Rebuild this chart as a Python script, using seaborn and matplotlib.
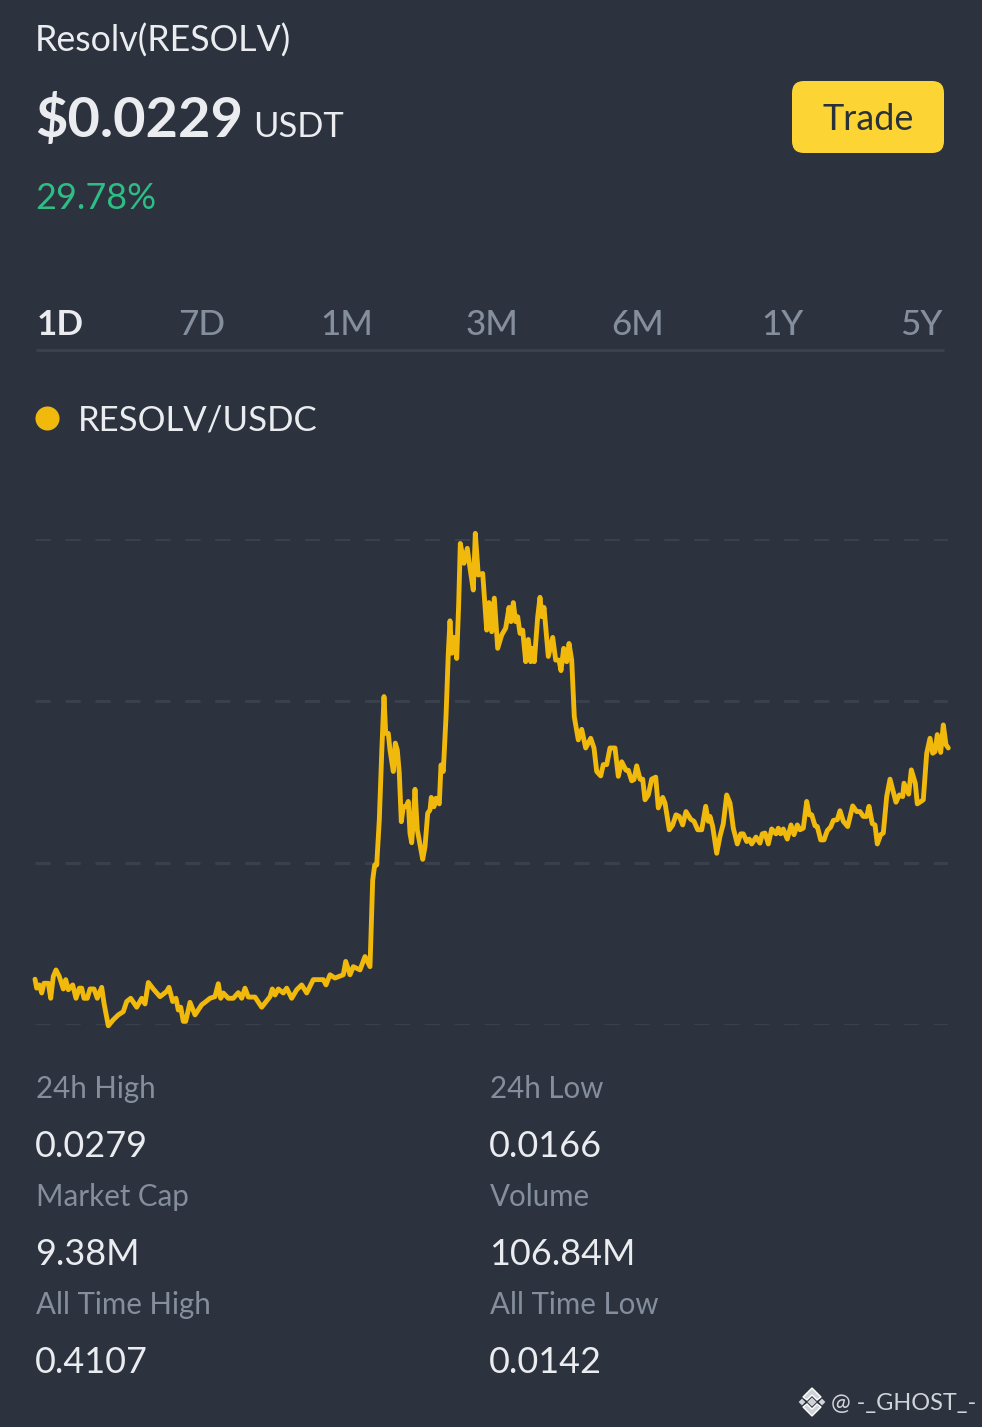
import matplotlib
matplotlib.use('Agg')
import matplotlib.pyplot as plt
from matplotlib.patches import FancyBboxPatch, Polygon
import pandas as pd
import seaborn as sns

# price trace, time in chart ticks, price in 1e-4 USDC
times = [0, 1.7, 4.3, 6.7, 9, 13.3, 15.7, 18.3, 21, 24.3, 28.3, 30.7, 33.3, 37.7, 41, 44.3, 46.7, 49, 52.3, 55, 59,
         62.3, 66.7, 69, 73.3, 78.3, 83.3, 88.3, 91.7, 95.7, 101.7, 106.7, 110, 113.3, 118.3, 125, 131.7, 134, 137.7,
         141, 143.3, 145.7, 148.3, 150.7, 155, 160, 166.7, 170, 175, 180, 183.3, 185.7, 188.3, 193.3, 198.3, 203.3,
         206.7, 210, 213.3, 220, 226.7, 235, 237.3, 240, 243.3, 248.3, 251.7, 256.7, 261.7, 266.7, 271.7, 278.3,
         288.3, 291, 295, 300, 308.3, 310.7, 315, 318.3, 325, 330, 335,
         337.7, 339.7, 341.7, 344.3, 346.7, 349, 350.7, 353.3, 355, 358.3, 360.3, 362.3, 364.3, 366.3, 368.3, 371,
         373.3, 375, 376.7, 378.3, 380, 382.3, 387.7, 390, 392.7, 395, 396.3, 399, 401, 404.3, 406, 408.3, 411,
         413.3, 415, 416.7, 419.3, 421.7, 423.7, 425.3, 429, 432.3, 435, 438.3, 440.3, 443.3, 447.7, 451.7, 454,
         456.7, 459.3, 462.7, 466.7, 470.7, 474, 476, 478.3, 480.7, 482.7, 485, 487.7, 490.7, 493.3, 495.7, 497.3,
         499.3, 502.7, 505, 507, 509, 513.3, 517.7, 520.7, 524, 526, 528.7, 531.7, 534, 536.7, 539.3, 543.3, 546.7,
         550.7, 555.7, 559, 561.7, 565.7, 568.3, 571.7, 575, 580, 583.3, 586.7, 591, 593.3, 596.7, 599, 601.7, 605,
         607.7, 610, 613.3, 616.7, 620.7, 623.3, 627.7, 630, 634.3, 637.7, 641, 644.3, 647.7, 651, 655.7, 659, 662.7,
         666.7, 670.7, 673.3, 675, 677.7, 681.7, 685, 688.3, 691.7, 695, 698.3, 702.3, 705.7, 708.3, 711.7, 714.3,
         716.7, 721, 725, 727.3, 730, 733.3, 736.7, 741, 743.3, 745.7, 748.3, 752.3, 756, 759, 762.3, 765, 768.3,
         771.7, 774.3, 776.7, 780, 782.3, 785.7, 789, 792.3, 795.7, 798.3, 802.3, 805, 808.3, 812.7, 817.7, 821.7,
         825, 828.3, 831.7, 834, 837.3, 840, 842.3, 845.7, 848.3, 851.7, 855, 857.7, 861, 864.3, 867.7, 869, 873.7,
         876.3, 880.3, 882.3, 888.3, 891.7, 895, 897.7, 900, 902.3, 905.7, 908.3, 911, 913.3]
prices = [171.3, 169.1, 169.9, 167.9, 170.3, 170.3, 166.6, 172, 173.6, 172, 168.9, 171.2, 168.7, 169.9, 166.6, 169.1,
          169.1, 166.6, 166.6, 168.9, 168.9, 166.6, 169.3, 165.4, 159.8, 161.3, 162.5, 163.3, 165.8, 166.6, 164.4,
          166.6, 165.2, 170.5, 168.9, 167, 168.3, 169.3, 165.8, 166.6, 163.7, 164.4, 160.9, 160.9, 165.6, 162.5, 165,
          165.6, 166.6, 167, 170.2, 166.6, 167.9, 166.6, 166.6, 168, 166.6, 169.1, 166.9, 166.9, 164.4, 167, 168.9,
          167.4, 168.9, 167.9, 169.1, 166.6, 168.7, 169.9, 167.9, 171.2, 171.2, 169.9, 172.4, 171.6, 172.4, 175.7,
          172.4, 174.4, 173.6, 176.9, 174.4,
          195.8, 199.5, 199.5, 210.6, 227.1, 241.1, 232, 232, 227.9, 222.6, 229.6, 227.9, 222.2, 210.2, 213.9, 213.9,
          215.2, 207.3, 205, 210.6, 218.2, 208.2, 200.9, 204, 212.3, 213.1, 216.2, 213.9, 216, 214.6, 224.2, 222.6,
          236.1, 251.8, 259.8, 251.8, 255.7, 250.5, 264.1, 278.9, 274, 277.7, 272.8, 267.4, 281.4, 271.1, 271.5, 257.5,
          264.3, 257.1, 265.4, 253, 256.3, 258, 263.1, 259.6, 264.3, 259.6, 260.8, 256.7, 257.5, 249.7, 255.2, 249.7,
          253, 249.7, 260.8, 265.6, 260.8, 263.1, 251, 255.7, 250.1, 250.1, 247.5, 253, 249.7, 254.2, 250.1, 236.1,
          230.4, 233,
          228.4, 230.8, 228.4, 222.6, 221.5, 224.3, 224.3, 228.4, 228.4, 221.4, 225, 222.9, 222.9, 220.3, 220.6, 224,
          220.7, 220.7, 215.6, 216.8, 220.7, 221.2, 213.6, 216.2, 214.8, 208.2, 209.4, 211.9, 211.5, 209.4, 212.7,
          210.8, 210.3, 208.2, 208.2, 214, 210.3, 211.5, 209, 202.4, 206.6, 209.7, 216.8, 214.8, 208.6, 204.7, 207.2,
          207.2, 205.3, 205.9, 204.7, 206.4, 204.9, 207.2, 207.4, 204.7, 208.4, 207.2, 208.6, 207.2, 208.4, 205.9,
          209.4, 207, 209.4, 208.2, 208.6, 215.2, 211.9, 211.9, 209.2, 209, 205.7, 205.7, 208, 208.9, 210.5, 210.7,
          212.9, 210.3, 209, 214.1, 212.7, 212.7, 211.5, 211.5, 214, 209.7, 209.4, 204.7, 207, 207.4, 216.4, 220.7,
          218.1, 215, 216.8, 216.4, 219.7, 217, 223, 219.7, 214.6, 215.6, 227.1, 230.8, 227.1, 227.5, 231.7, 227.3,
          234.1, 229.2, 228.4]
grid_ticks = [160, 200, 240, 280]

tabs = ['1D', '7D', '1M', '3M', '6M', '1Y', '5Y']
tab_x = [60, 202, 347, 492, 638, 782, 921]
stat_labels = ['24h High', '24h Low', 'Market Cap', 'Volume', 'All Time High', 'All Time Low']
stat_values = ['0.0279', '0.0166', '9.38M', '106.84M', '0.4107', '0.0142']

BG = '#2c323e'
GRID = '#3a404c'
LINE = '#f0b90b'
GREY = '#848e9c'
WHITE = '#eaecef'
LOGO = '#d0d3d8'
W, H = 982, 1427

sns.set_theme(style='dark')
plt.rcParams['font.family'] = ['Lato', 'DejaVu Sans']

fig = plt.figure(figsize=(W / 100, H / 100), dpi=100, facecolor=BG)

# page layer in pixel coordinates
page = fig.add_axes([0, 0, 1, 1], facecolor=BG)
page.set_xlim(0, W)
page.set_ylim(H, 0)
page.axis('off')


def label(x, y, s, px, color=WHITE, **kw):
    page.text(x, y, s, fontsize=px * 0.72, color=color, va='baseline', **kw)


label(35, 52, 'Resolv(RESOLV)', 35.8)
label(35, 137, '$0.0229', 56, weight='bold')
label(253, 137, 'USDT', 34.5)
label(35, 209, '29.78%', 36, color='#2ebd85')

page.add_patch(FancyBboxPatch((800, 89), 136, 56, boxstyle='round,pad=8,rounding_size=12',
                              fc='#fcd535', ec='none'))
label(868, 130, 'Trade', 36, color='#2b3139', ha='center')

for i, (name, x) in enumerate(zip(tabs, tab_x)):
    label(x, 335, name, 35, color=WHITE if i == 0 else GREY, ha='center', weight='bold' if i == 0 else 'medium')
page.plot([36, 944], [350, 350], color=GRID, lw=2.2, solid_capstyle='butt')

page.scatter([47], [418], s=300, color=LINE, linewidths=0)
label(78, 431, 'RESOLV/USDC', 34.8)

# stats grid
for i in range(6):
    x = 36 if i % 2 == 0 else 490
    row = i // 2
    label(x, 1098 + row * 108, stat_labels[i], 29.5, color=GREY)
    label(x - 1, 1157 + row * 108, stat_values[i], 36)

# watermark with small exchange logo
page.add_patch(Polygon([(812, 1388), (821, 1397), (817, 1400), (812, 1395), (807, 1400), (803, 1397)], fc=LOGO))
page.add_patch(Polygon([(812, 1416), (821, 1407), (817, 1404), (812, 1409), (807, 1404), (803, 1407)], fc=LOGO))
page.scatter([812, 802, 822], [1402, 1402, 1402], s=[22, 12, 12], marker='D', color=LOGO, linewidths=0)
label(831, 1410, '@ -_GHOST_-', 23.5, color=LOGO)

# chart
ax = fig.add_axes([35 / W, 1 - 1025 / H, 913 / W, 486 / H], facecolor='none')
df = pd.DataFrame({'time': times, 'price': prices})
sns.lineplot(data=df, x='time', y='price', color=LINE, linewidth=3.5, ax=ax, clip_on=False, zorder=3)
ax.lines[0].set_solid_joinstyle('round')
ax.lines[0].set_solid_capstyle('round')
ax.set_xlim(0, 913)
ax.set_ylim(160, 280)
ax.set_xticks([])
ax.set_yticks(grid_ticks)
ax.tick_params(left=False, labelleft=False)
ax.set_xlabel('')
ax.set_ylabel('')
ax.grid(axis='y', color=GRID, lw=2.2, linestyle=(0, (5, 4.8)))
ax.set_axisbelow(True)
for spine in ax.spines.values():
    spine.set_visible(False)

fig.savefig('out.png', dpi=100, facecolor=BG)
